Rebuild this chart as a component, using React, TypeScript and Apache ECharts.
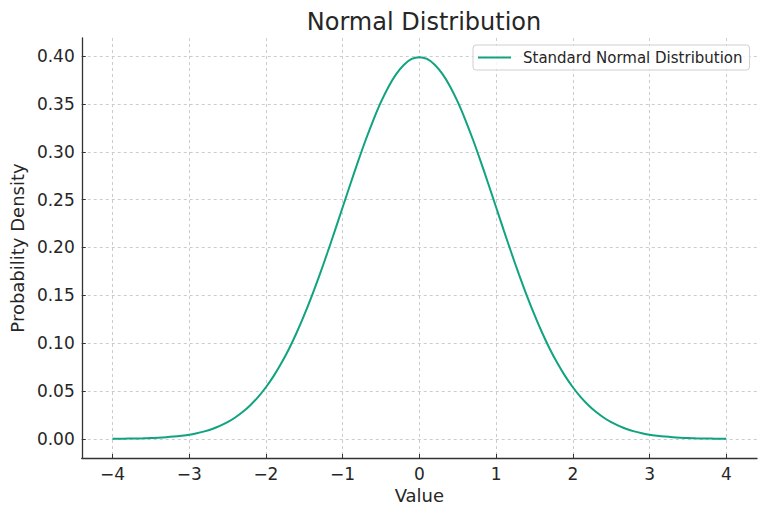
import React, { useEffect, useRef } from "react";
import * as echarts from "echarts";

const xValues = [
  -4.0, -3.9, -3.8, -3.7, -3.6, -3.5, -3.4, -3.3, -3.2, -3.1,
  -3.0, -2.9, -2.8, -2.7, -2.6, -2.5, -2.4, -2.3, -2.2, -2.1,
  -2.0, -1.9, -1.8, -1.7, -1.6, -1.5, -1.4, -1.3, -1.2, -1.1,
  -1.0, -0.9, -0.8, -0.7, -0.6, -0.5, -0.4, -0.3, -0.2, -0.1,
  0.0, 0.1, 0.2, 0.3, 0.4, 0.5, 0.6, 0.7, 0.8, 0.9,
  1.0, 1.1, 1.2, 1.3, 1.4, 1.5, 1.6, 1.7, 1.8, 1.9,
  2.0, 2.1, 2.2, 2.3, 2.4, 2.5, 2.6, 2.7, 2.8, 2.9,
  3.0, 3.1, 3.2, 3.3, 3.4, 3.5, 3.6, 3.7, 3.8, 3.9, 4.0,
];

const densityValues = [
  0.0001, 0.0002, 0.0003, 0.0004, 0.0006, 0.0009, 0.0012, 0.0017, 0.0024, 0.0033,
  0.0044, 0.006, 0.0079, 0.0104, 0.0136, 0.0175, 0.0224, 0.0283, 0.0355, 0.044,
  0.054, 0.0656, 0.079, 0.094, 0.1109, 0.1295, 0.1497, 0.1714, 0.1942, 0.2179,
  0.242, 0.2661, 0.2897, 0.3123, 0.3332, 0.3521, 0.3683, 0.3814, 0.391, 0.397,
  0.3989, 0.397, 0.391, 0.3814, 0.3683, 0.3521, 0.3332, 0.3123, 0.2897, 0.2661,
  0.242, 0.2179, 0.1942, 0.1714, 0.1497, 0.1295, 0.1109, 0.094, 0.079, 0.0656,
  0.054, 0.044, 0.0355, 0.0283, 0.0224, 0.0175, 0.0136, 0.0104, 0.0079, 0.006,
  0.0044, 0.0033, 0.0024, 0.0017, 0.0012, 0.0009, 0.0006, 0.0004, 0.0003, 0.0002, 0.0001,
];

const xTicks = [-4, -3, -2, -1, 0, 1, 2, 3, 4];
const yTicks = [0, 0.05, 0.1, 0.15, 0.2, 0.25, 0.3, 0.35, 0.4];

const seriesName = "Standard Normal Distribution";
const titleText = "Normal Distribution";
const xAxisName = "Value";
const yAxisName = "Probability Density";

const FONT = "DejaVu Sans";

export default function App() {
  const ref = useRef<HTMLDivElement>(null);

  useEffect(() => {
    if (!ref.current) return;
    const chart = echarts.init(ref.current, undefined, { renderer: "svg" });
    const data = xValues.map((x, i) => [x, densityValues[i]]);
    const gridLine = { show: true, lineStyle: { color: "#cccccc", type: [3, 3] as any, width: 1 } };
    chart.setOption({
      animation: false,
      backgroundColor: "#ffffff",
      textStyle: { fontFamily: FONT },
      title: {
        text: titleText,
        left: 419,
        textAlign: "center",
        top: 5,
        textStyle: { fontFamily: FONT, fontSize: 24, fontWeight: "normal", color: "#262626" },
      },
      legend: {
        show: true,
        left: 473,
        top: 45,
        padding: [5, 7, 5, 5],
        borderColor: "#d0d0d0",
        borderWidth: 1,
        borderRadius: 3,
        backgroundColor: "rgba(255,255,255,0.8)",
        icon: "rect",
        itemWidth: 33,
        itemHeight: 2.2,
        itemGap: 0,
        textStyle: { fontFamily: FONT, fontSize: 15, color: "#262626", padding: [0, 0, 0, 7] },
        data: [seriesName],
      },
      grid: { left: 81, right: 11, top: 38, bottom: 58, containLabel: false },
      xAxis: {
        type: "value",
        min: -4.4,
        max: 4.4,
        name: xAxisName,
        nameLocation: "middle",
        nameGap: 28,
        nameTextStyle: { fontFamily: FONT, fontSize: 18, color: "#262626" },
        axisLine: { show: true, onZero: false, lineStyle: { color: "#333333", width: 1.3 } },
        axisTick: { show: true, inside: true, length: 4, customValues: xTicks, lineStyle: { color: "#333333", width: 1 } },
        axisLabel: {
          customValues: xTicks,
          fontFamily: FONT,
          fontSize: 17,
          color: "#262626",
          margin: 7,
          formatter: (v: number) => String(v).replace("-", "\u2212"),
        },
        splitLine: gridLine,
      },
      yAxis: {
        type: "value",
        min: -0.01995,
        max: 0.41889,
        name: yAxisName,
        nameLocation: "middle",
        nameGap: 54,
        nameRotate: 90,
        nameTextStyle: { fontFamily: FONT, fontSize: 18, color: "#262626" },
        axisLine: { show: true, onZero: false, lineStyle: { color: "#333333", width: 1.3 } },
        axisTick: { show: true, inside: true, length: 4, customValues: yTicks, lineStyle: { color: "#333333", width: 1 } },
        axisLabel: {
          customValues: yTicks,
          fontFamily: FONT,
          fontSize: 17,
          color: "#262626",
          margin: 7,
          formatter: (v: number) => v.toFixed(2),
        },
        splitLine: gridLine,
      },
      series: [
        {
          name: seriesName,
          type: "line",
          data,
          smooth: 0.3,
          showSymbol: false,
          symbol: "none",
          lineStyle: { color: "#10a37f", width: 2 },
          itemStyle: { color: "#10a37f" },
          z: 3,
        },
      ],
    });
    return () => chart.dispose();
  }, []);

  return <div ref={ref} style={{ width: 768, height: 516, position: "absolute", left: 0, top: 0 }} />;
}
